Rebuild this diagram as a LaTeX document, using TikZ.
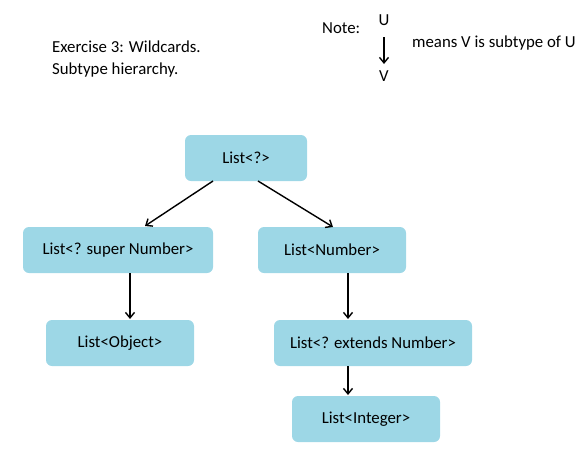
\documentclass[tikz,border=0pt]{standalone}
\usepackage{fontspec}
\setmainfont{Carlito}
\usetikzlibrary{arrows.meta}
\definecolor{boxblue}{RGB}{157,215,230}
\begin{document}
\begin{tikzpicture}[x=1pt,y=-1pt,
  box/.style={fill=boxblue,rounded corners=6pt,inner sep=0pt},
  lbl/.style={font=\fontsize{16.8}{19}\selectfont,text=black},
  txt/.style={font=\fontsize{16.8}{19}\selectfont,anchor=west,inner sep=0pt},
  arr/.style={line width=1.4pt,-{Straight Barb[length=5.5pt,width=9pt]}}]
\useasboundingbox (0,0) rectangle (588,474);
% boxes
\fill[box] (185,135) rectangle (307,181);
\node[lbl] (top) at (246,158) {List<?>};
\fill[box] (23,227) rectangle (213,273);
\node[lbl] (sup) at (118,250) {List<? super Number>};
\fill[box] (258,227) rectangle (406,273);
\node[lbl] (num) at (332,250) {List<Number>};
\fill[box] (46,320) rectangle (194,366);
\node[lbl] (obj) at (120,343) {List<Object>};
\fill[box] (274,320) rectangle (472,366);
\node[lbl] (ext) at (373,343) {List<? extends Number>};
\fill[box] (292,396) rectangle (440,442);
\node[lbl] (int) at (366,419) {List<Integer>};
\coordinate (a1) at (213,181); \coordinate (a2) at (145,226);
\coordinate (b1) at (258,181); \coordinate (b2) at (333,227);
\coordinate (c1) at (130,273); \coordinate (c2) at (130,319);
\coordinate (d1) at (348,273); \coordinate (d2) at (348,319);
\coordinate (e1) at (348,366); \coordinate (e2) at (348,395);
\draw[arr] (a1) -- (a2);
\draw[arr] (b1) -- (b2);
\draw[arr] (c1) -- (c2);
\draw[arr] (d1) -- (d2);
\draw[arr] (e1) -- (e2);
% texts
\node[txt] (ex1) at (52,47) {Exercise 3: Wildcards.};
\node[txt] (ex2) at (52,70) {Subtype hierarchy.};
\node[txt] (note) at (322,28) {Note:};
\node[lbl] (U) at (384,20) {U};
\node[lbl] (V) at (384,76) {V};
\coordinate (n1) at (384,37); \coordinate (n2) at (384,64);
\draw[arr] (n1) -- (n2);
\node[txt] (means) at (412,43) {means V is subtype of U};
\end{tikzpicture}
\end{document}
